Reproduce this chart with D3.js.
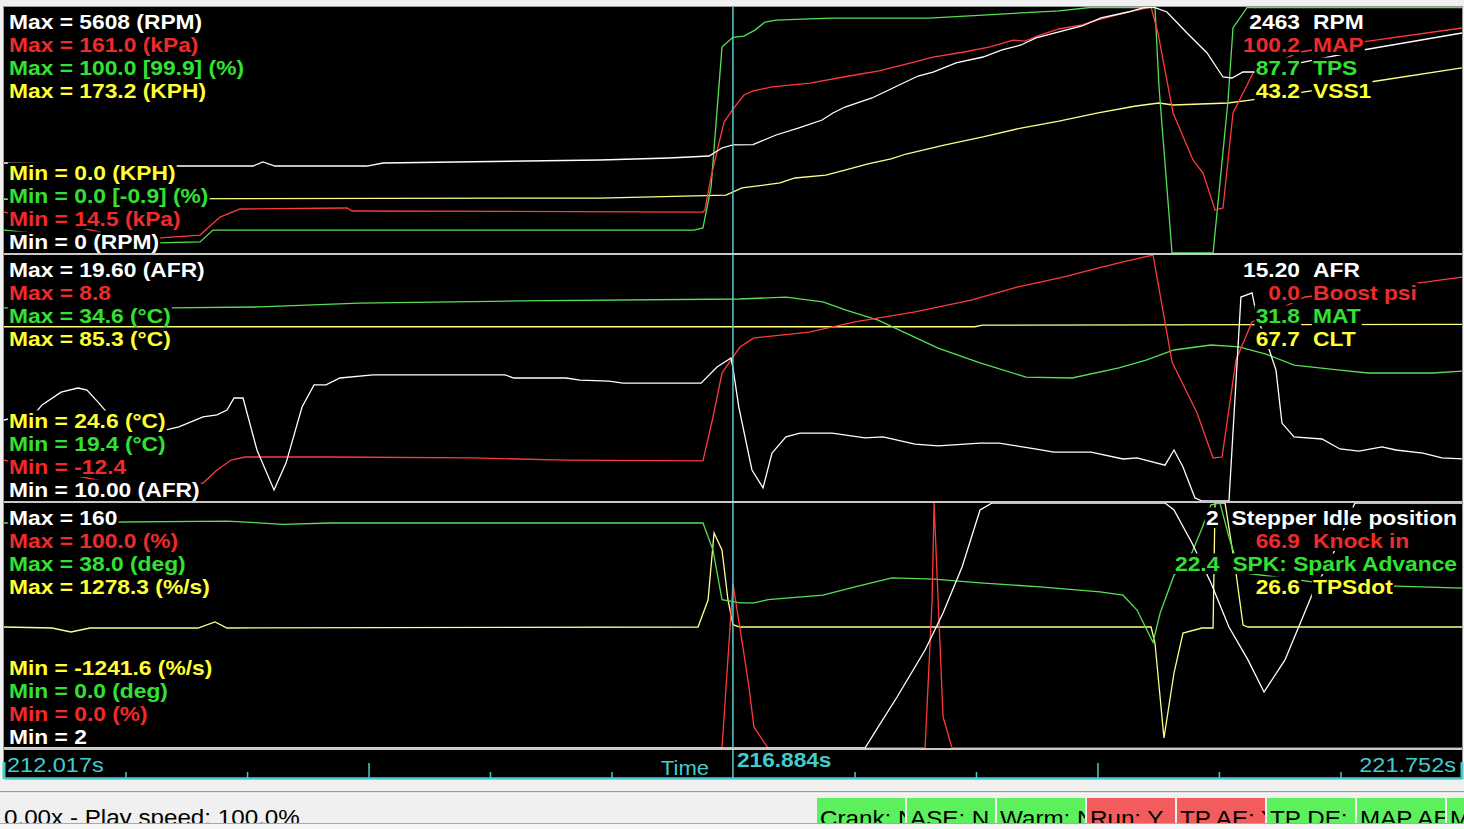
<!DOCTYPE html>
<html>
<head>
<meta charset="utf-8">
<title>Log viewer</title>
<script src="https://d3js.org/d3.v7.min.js"></script>
<style>
  body { margin: 0; background: #f0f0f0; }
  svg { display: block; }
  text { font-family: "Liberation Sans", Arial, sans-serif; }
</style>
</head>
<body>
<svg id="plot" width="1464" height="829"></svg>
<script>
// time window and cursor
const timeRange = [212.017, 221.752];
const cursorTime = 216.884;
const minorTicks = [212.828, 213.640, 215.262, 216.073, 217.696, 218.507, 220.129, 220.941];
const majorTicks = [214.451, 219.318];

// panel 1: RPM, MAP, TPS, VSS1  ([time s, value])
const rpm = [[212.017,2052],[213.145,1983],[213.680,1983],[213.746,2075],[213.826,1983],[214.441,1983],[214.548,2052],[215.997,2120],[216.457,2166],[216.724,2211],[216.811,2394],[216.884,2463],[217.018,2470],[217.172,2690],[217.325,2850],[217.479,3032],[217.552,3192],[217.632,3328],[217.813,3534],[217.966,3784],[218.120,4035],[218.220,4126],[218.374,4332],[218.554,4468],[218.681,4628],[218.808,4742],[218.908,4902],[219.061,5039],[219.215,5175],[219.342,5358],[219.522,5494],[219.622,5590],[219.689,5608],[219.782,5494],[219.916,5016],[220.050,4559],[220.156,4012],[220.216,3990],[220.290,4126],[220.370,4126],[220.670,4332],[221.091,4628],[221.752,5016]];
const map = [[212.017,38.9],[212.792,24.6],[213.039,23.4],[213.326,25.2],[213.459,35.9],[213.593,40.7],[214.307,41.3],[214.341,39.5],[216.684,38.9],[216.697,40.1],[216.738,59.8],[216.791,80.0],[216.825,92.5],[216.884,100.2],[216.958,108.6],[217.018,111.0],[217.145,113.4],[217.399,115.7],[217.659,119.9],[217.860,122.9],[218.040,127.0],[218.220,131.2],[218.427,134.2],[218.601,137.2],[218.754,141.3],[218.834,140.7],[218.934,144.3],[219.061,147.9],[219.215,150.3],[219.322,153.3],[219.522,158.0],[219.676,161.0],[219.722,145.5],[219.823,97.9],[219.956,69.9],[220.023,62.1],[220.103,40.1],[220.156,41.3],[220.223,97.9],[220.290,109.8],[220.357,121.7],[220.670,134.2],[221.091,140.2],[221.752,148.5]];
const tps = [[212.017,9.3],[212.792,4.5],[213.039,4.1],[213.326,4.5],[213.412,9.3],[216.624,9.3],[216.684,10.2],[216.738,26.8],[216.811,83.7],[216.884,87.7],[216.958,88.2],[217.031,90.6],[217.098,93.9],[217.172,94.7],[217.532,95.5],[218.193,95.5],[218.554,96.7],[218.808,97.6],[219.061,98.4],[219.268,99.8],[219.702,99.8],[219.729,67.5],[219.816,0],[220.090,0],[220.190,62.2],[220.223,91.5],[220.317,99.8],[221.752,99.8]];
const vss = [[212.017,38.0],[215.997,38.7],[216.838,40.8],[216.945,45.8],[217.198,49.3],[217.298,52.8],[217.505,54.9],[217.632,58.4],[217.786,62.7],[217.940,66.2],[218.040,69.7],[218.294,76.0],[218.554,81.7],[218.808,88.0],[219.061,92.9],[219.322,98.6],[219.575,103.5],[219.729,105.6],[219.823,104.2],[220.190,105.6],[220.337,107.7],[221.138,120.4],[221.752,130.3]];

// panel 2: AFR, Boost psi, MAT, CLT
const afr = [[212.017,13.16],[212.231,13.47],[212.271,13.75],[212.398,14.25],[212.511,14.41],[212.571,14.33],[212.651,13.82],[212.792,12.85],[213.092,12.77],[213.185,12.89],[213.346,13.28],[213.439,13.36],[213.506,13.55],[213.553,14.02],[213.613,14.02],[213.706,11.99],[213.820,10.43],[213.900,11.48],[214.007,13.67],[214.087,14.53],[214.167,14.53],[214.260,14.80],[214.481,14.92],[215.362,14.92],[215.422,14.80],[215.770,14.80],[215.863,14.72],[216.057,14.68],[216.150,14.60],[216.671,14.60],[216.778,15.23],[216.871,15.58],[216.884,15.20],[216.923,13.67],[217.011,11.21],[217.085,10.51],[217.145,11.87],[217.238,12.50],[217.332,12.65],[217.546,12.65],[217.766,12.46],[217.886,12.50],[218.100,12.22],[218.254,12.15],[218.534,12.26],[218.661,12.26],[218.901,12.03],[219.028,11.91],[219.275,11.91],[219.489,11.64],[219.582,11.68],[219.769,11.40],[219.829,11.99],[219.889,11.33],[219.969,10.12],[220.016,10.00],[220.196,10.00],[220.276,17.96],[220.350,18.12],[220.383,17.18],[220.443,16.28],[220.510,15.11],[220.550,13.04],[220.630,12.50],[220.817,12.42],[220.937,12.03],[221.064,11.95],[221.218,12.11],[221.311,11.99],[221.491,11.87],[221.618,11.68],[221.752,11.64]];
const boost = [[212.017,-8.87],[212.792,-11.02],[213.346,-10.85],[213.439,-9.73],[213.533,-8.87],[213.626,-8.61],[214.194,-8.61],[215.142,-8.69],[215.770,-8.87],[216.684,-8.95],[216.751,-5.16],[216.811,-1.37],[216.884,0.0],[216.931,0.87],[217.024,1.65],[217.392,2.16],[217.699,3.03],[218.100,3.89],[218.474,4.92],[218.781,6.04],[219.088,6.90],[219.275,7.51],[219.489,8.20],[219.689,8.8],[219.816,-0.42],[219.983,-4.82],[220.090,-8.69],[220.150,-8.61],[220.243,-0.25],[220.350,3.03],[220.704,5.18],[221.465,6.39],[221.752,6.90]];
const mat = [[212.017,31.33],[213.125,31.33],[213.726,31.39],[214.387,31.63],[215.456,31.76],[216.931,31.88],[217.238,32.0],[217.485,31.70],[217.639,31.20],[217.853,30.58],[218.254,28.85],[218.534,27.93],[218.841,27.06],[219.148,27.0],[219.462,27.62],[219.642,28.11],[219.829,28.73],[220.076,29.04],[220.263,28.92],[220.443,28.48],[220.630,27.80],[220.937,27.49],[221.124,27.31],[221.558,27.31],[221.752,27.43]];
const clt = [[212.017,67.6],[218.50,67.6],[218.55,68.0],[221.752,68.2]];

// panel 3: Stepper Idle position, Knock in, SPK, TPSdot
const stepper = [[212.017,2],[217.766,2],[217.853,15.5],[217.980,34.9],[218.167,65.2],[218.287,89.1],[218.414,118.7],[218.534,155.5],[218.614,160],[219.769,160],[219.829,155.5],[219.949,134.2],[220.076,108.4],[220.196,80.0],[220.323,58.8],[220.430,38.1],[220.570,58.8],[220.750,100.7],[220.904,129.7],[221.037,160],[221.752,160]];
const knock = [[212.017,0],[216.811,0],[216.884,66.9],[216.931,49.0],[216.991,24.9],[217.024,8.6],[217.118,0],[218.167,0],[218.214,60.4],[218.227,100],[218.254,60.4],[218.287,12.7],[218.347,0],[221.752,0]];
const spk = [[212.017,34.9],[213.506,35.2],[213.880,34.7],[214.194,34.9],[216.684,34.9],[216.751,30.7],[216.811,23.0],[216.931,22.5],[217.024,22.5],[217.118,23.0],[217.485,23.7],[217.699,25.0],[217.946,26.4],[218.227,26.2],[218.534,25.6],[218.934,25.0],[219.335,24.2],[219.489,23.7],[219.582,21.4],[219.689,16.4],[219.736,20.9],[219.829,26.8],[219.936,29.6],[220.016,34.1],[220.076,37.7],[220.136,38.0],[220.196,32.7],[220.243,29.2],[220.323,27.1],[220.804,25.6],[221.311,25.1],[221.752,24.8]];
const tpsdot = [[212.017,2.9],[212.338,-7.4],[212.464,-48.5],[212.591,-7.4],[213.312,-7.4],[213.426,54.3],[213.506,-7.4],[216.651,2.9],[216.718,280.6],[216.758,969.7],[216.811,794.8],[216.851,280.6],[216.884,26.6],[216.931,2.9],[219.676,2.9],[219.702,-161.6],[219.762,-1138.7],[219.829,-470.2],[219.889,-58.8],[220.016,-7.4],[220.090,-7.4],[220.103,1278.3],[220.170,1278.3],[220.243,558.3],[220.290,23.5],[220.323,2.9],[221.752,2.9]];

// min / max of each gauge
const ranges1 = [[0,5608],[14.5,161.0],[0,100],[0,173.2]];
const ranges2 = [[10,19.6],[-12.4,8.8],[19.4,34.6],[24.6,85.3]];
const ranges3 = [[2,160],[0,100],[0,38],[-1241.6,1278.3]];

const maxLabels1 = ["Max = 5608 (RPM)","Max = 161.0 (kPa)","Max = 100.0 [99.9] (%)","Max = 173.2 (KPH)"];
const minLabels1 = ["Min = 0 (RPM)","Min = 14.5 (kPa)","Min = 0.0 [-0.9] (%)","Min = 0.0 (KPH)"];
const maxLabels2 = ["Max = 19.60 (AFR)","Max = 8.8","Max = 34.6 (°C)","Max = 85.3 (°C)"];
const minLabels2 = ["Min = 10.00 (AFR)","Min = -12.4","Min = 19.4 (°C)","Min = 24.6 (°C)"];
const maxLabels3 = ["Max = 160","Max = 100.0 (%)","Max = 38.0 (deg)","Max = 1278.3 (%/s)"];
const minLabels3 = ["Min = 2","Min = 0.0 (%)","Min = 0.0 (deg)","Min = -1241.6 (%/s)"];

const names1 = ["RPM","MAP","TPS","VSS1"];
const names2 = ["AFR","Boost psi","MAT","CLT"];
const names3 = ["Stepper Idle position","Knock in","SPK: Spark Advance","TPSdot"];
const now1 = ["2463","100.2","87.7","43.2"];
const now2 = ["15.20","0.0","31.8","67.7"];
const now3 = ["2","66.9","22.4","26.6"];

const statusLabels = ["Crank: N","ASE: N","Warm: N","Run: Y","TP AE: Y","TP DE: N","MAP AE: N","MAT AE: N"];
const statusStates = ["N","N","N","Y","Y","N","N","N"];
const playText = "0.00x - Play speed: 100.0%";

const lineColors = ["#ffffff", "#ff3a3a", "#55e055", "#ffff88"];
const textColors = ["#ffffff", "#ee2a2a", "#33e033", "#ffff33"];
const cyan = "#44cccc";

const svg = d3.select("#plot");
const width = +svg.attr("width");
const height = +svg.attr("height");
const sx = 1.14;

const panels = [
    { top: 7, bottom: 253, data: [rpm, map, tps, vss], ranges: ranges1, maxL: maxLabels1, minL: minLabels1, names: names1, now: now1 },
    { top: 255, bottom: 501, data: [afr, boost, mat, clt], ranges: ranges2, maxL: maxLabels2, minL: minLabels2, names: names2, now: now2 },
    { top: 503, bottom: 748, data: [stepper, knock, spk, tpsdot], ranges: ranges3, maxL: maxLabels3, minL: minLabels3, names: names3, now: now3 }
];

svg.append("rect").attr("width", width).attr("height", height).attr("fill", "#f0f0f0");
svg.append("rect").attr("x", 3.5).attr("y", 6.5).attr("width", 1459).attr("height", 772)
    .attr("fill", "#000").attr("stroke", "#9a9a9a");

const x = d3.scaleLinear().domain(timeRange).range([4, 1462]);

// text with black box behind, slightly stretched like the original
function label(g, px, py, str, color, anchor, size, weight, stretch, bg) {
    const grp = g.append("g").attr("transform", "translate(" + px + "," + py + ") scale(" + stretch + ",1)");
    const rect = grp.append("rect").attr("fill", "#000");
    const t = grp.append("text")
        .attr("text-anchor", anchor)
        .attr("font-size", size)
        .attr("font-weight", weight)
        .attr("fill", color)
        .text(str);
    if (bg) {
        const b = t.node().getBBox();
        rect.attr("x", b.x - 1).attr("y", -17.5).attr("width", b.width + 2).attr("height", 20.5);
    } else {
        rect.remove();
    }
    return grp;
}

panels.forEach((p, pi) => {
    const clipId = "clip" + pi;
    svg.append("clipPath").attr("id", clipId).append("rect")
        .attr("x", 4).attr("y", p.top).attr("width", 1458).attr("height", p.bottom - p.top);

    const g = svg.append("g").attr("clip-path", "url(#" + clipId + ")");
    for (let i = 3; i >= 0; i--) {
        const y = d3.scaleLinear().domain(p.ranges[i]).range([p.bottom, p.top]);
        const line = d3.line().x(d => x(d[0])).y(d => y(d[1]));
        g.append("path")
            .datum(p.data[i])
            .attr("fill", "none")
            .attr("stroke", lineColors[i])
            .attr("stroke-width", 1.3)
            .attr("d", line);
    }
});

// cursor
svg.append("line")
    .attr("x1", x(cursorTime)).attr("x2", x(cursorTime))
    .attr("y1", 7).attr("y2", 778)
    .attr("stroke", "#5ccccc").attr("stroke-width", 1.5);

// separators
[253, 501, 748].forEach(yy => {
    svg.append("rect").attr("x", 4).attr("y", yy).attr("width", 1458).attr("height", 2).attr("fill", "#c8c8c8");
});

// labels
const labels = svg.append("g");
panels.forEach(p => {
    for (let i = 0; i < 4; i++) {
        label(labels, 9, p.top + 22 + 23 * i, p.maxL[i], textColors[i], "start", 20, "bold", sx, true);
        label(labels, 9, p.bottom - 4 - 23 * i, p.minL[i], textColors[i], "start", 20, "bold", sx, true);

        const by = p.top + 22 + 23 * i;
        const nameG = label(labels, 0, by, p.names[i], textColors[i], "start", 20, "bold", sx, true);
        const w = nameG.select("text").node().getComputedTextLength() * sx;
        const nx = Math.min(1313, 1457 - w);
        nameG.attr("transform", "translate(" + nx + "," + by + ") scale(" + sx + ",1)");
        label(labels, nx - 13, by, p.now[i], textColors[i], "end", 20, "bold", sx, true);
    }
});

// time axis
const axisG = svg.append("g").attr("transform", "translate(0,778)");
axisG.call(d3.axisTop(x).tickValues(minorTicks).tickSize(6).tickSizeOuter(0).tickFormat(""));
const majorG = svg.append("g").attr("transform", "translate(0,778)");
majorG.call(d3.axisTop(x).tickValues(majorTicks).tickSize(15).tickSizeOuter(0).tickFormat(""));
svg.selectAll(".domain").attr("stroke", cyan).attr("stroke-width", 2);
svg.selectAll(".tick line").attr("stroke", cyan).attr("stroke-width", 1.5);
timeRange.forEach(t => {
    svg.append("rect").attr("x", x(t) - 1.5).attr("y", 762).attr("width", 3).attr("height", 17).attr("fill", cyan);
});

const fmt = d => d3.format(".3f")(d) + "s";
label(svg, 7, 772, fmt(timeRange[0]), cyan, "start", 21, "normal", 1.12, false);
label(svg, 709, 775, "Time", cyan, "end", 21, "normal", 1.05, false);
label(svg, x(cursorTime) + 4, 767, fmt(cursorTime), cyan, "start", 21, "bold", 1.08, false);
label(svg, 1456, 772, fmt(timeRange[1]), cyan, "end", 21, "normal", 1.12, false);

// status bar
svg.append("rect").attr("x", 0).attr("y", 791).attr("width", width).attr("height", 1.5).attr("fill", "#999");
svg.append("rect").attr("x", 0).attr("y", 792.5).attr("width", width).attr("height", 1).attr("fill", "#fff");
label(svg, 4, 825, playText, "#000", "start", 22, "normal", 1.1, false);

statusLabels.forEach((s, i) => {
    const bx = 817 + 90 * i;
    svg.append("clipPath").attr("id", "sclip" + i).append("rect")
        .attr("x", bx).attr("y", 798).attr("width", 88).attr("height", 25);
    const g = svg.append("g").attr("clip-path", "url(#sclip" + i + ")");
    g.append("rect").attr("x", bx).attr("y", 798).attr("width", 88).attr("height", 25)
        .attr("fill", statusStates[i] === "Y" ? "#f25c5c" : "#5cf05c");
    label(g, bx + 3, 826, s, "#000", "start", 22, "normal", 1.1, false);
});

svg.append("rect").attr("x", 0).attr("y", 823).attr("width", width).attr("height", 6).attr("fill", "#f6f6f6");
svg.append("rect").attr("x", 0).attr("y", 823).attr("width", width).attr("height", 1).attr("fill", "#a8a8a8");
</script>
</body>
</html>
